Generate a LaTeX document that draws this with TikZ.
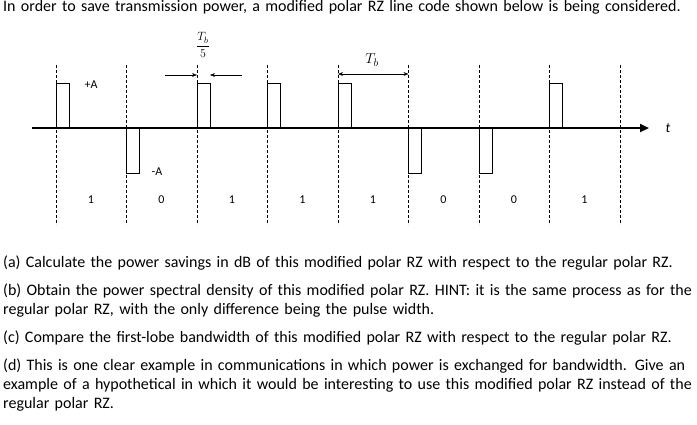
\documentclass[tikz,border=0pt]{standalone}
\usepackage{fontspec}
\setmainfont{Carlito}
\usetikzlibrary{arrows.meta}
\begin{document}
\begin{tikzpicture}[x=1pt,y=-1pt,
  txt/.style={anchor=north west,inner sep=0pt,text width=690pt,align=left,font=\fontsize{16}{19}\selectfont},
  lbl/.style={inner sep=1pt,font=\fontsize{12}{14}\selectfont},
  grid/.style={densely dashed,thin},
  pulse/.style={thick}]
\useasboundingbox (0,0) rectangle (697,424);
\node[txt] (l0) at (3,0) {In order to save transmission power, a modified polar RZ line code shown below is being considered.};
% axis
\coordinate (a0) at (32,128);
\coordinate (a1) at (649,128);
\draw[line width=2.2pt,-{Triangle[length=9pt,width=8pt]}] (a0) -- (a1);
\node[font=\itshape\fontsize{14}{16}\selectfont] (t) at (668,128) {t};
% grid
\foreach \x in {56,126.5,197,267.5,338,408.5,479,549.5,620}
  \draw[grid] (\x,65) -- (\x,225);
% pulses
\foreach \x/\s in {56/1,126.5/-1,197/1,267.5/1,338/1,408.5/-1,479/-1,549.5/1}
  \draw[pulse] (\x,128) -- (\x,128-45*\s) -- (\x+13,128-45*\s) -- (\x+13,128);
% bits
\foreach \x/\b in {56/1,126.5/0,197/1,267.5/1,338/1,408.5/0,479/0,549.5/1}
  \node[lbl] at (\x+35,200) {\b};
\node[lbl] (pa) at (91,85) {+A};
\node[lbl] (ma) at (157,172) {-A};
% Tb/5
\node[font=\fontsize{13}{15}\selectfont,inner sep=0pt] (tb5) at (203,45) {$\displaystyle\frac{T_b}{5}$};
\coordinate (w1) at (197,75); \coordinate (w2) at (210,75);
\coordinate (w1s) at (165,75); \coordinate (w2s) at (242,75);
\draw[-{Stealth[length=5pt]}] (w1s) -- (w1);
\draw[-{Stealth[length=5pt]}] (w2s) -- (w2);
% Tb
\coordinate (b1) at (338,74); \coordinate (b2) at (408.5,74);
\draw[{Stealth[length=5pt]}-{Stealth[length=5pt]}] (b1) -- (b2);
\node[font=\fontsize{15}{17}\selectfont] (tb) at (372,60) {$T_b$};
% questions
\node[txt] (qa) at (3,256) {(a) Calculate the power savings in dB of this modified polar RZ with respect to the regular polar RZ.};
\node[txt] (qb) at (3,284) {(b) Obtain the power spectral density of this modified polar RZ. HINT: it is the same process as for the regular polar RZ, with the only difference being the pulse width.};
\node[txt] (qc) at (3,331) {(c) Compare the first-lobe bandwidth of this modified polar RZ with respect to the regular polar RZ.};
\node[txt] (qd) at (3,359) {(d) This is one clear example in communications in which power is exchanged for bandwidth. Give an example of a hypothetical in which it would be interesting to use this modified polar RZ instead of the regular polar RZ.};
\end{tikzpicture}
\end{document}
